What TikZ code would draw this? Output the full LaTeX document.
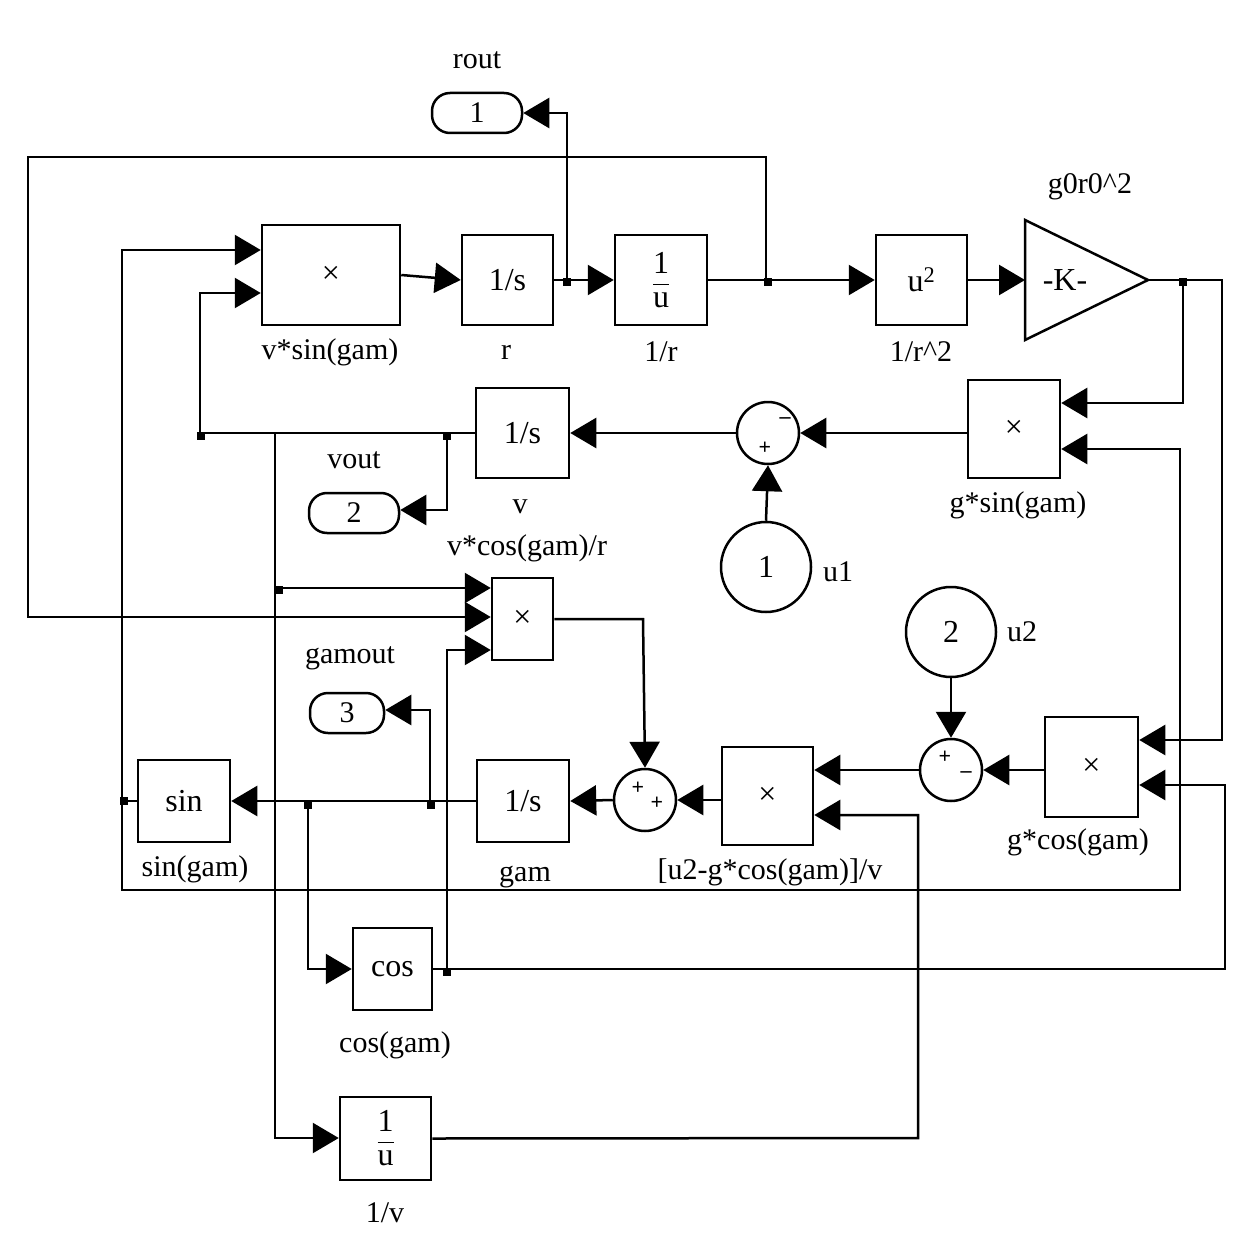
\documentclass[tikz,border=0pt]{standalone}
\usepackage{fontspec}
\setmainfont{Liberation Serif}
\usetikzlibrary{arrows.meta,calc}
\begin{document}
\begin{tikzpicture}[x=1pt,y=-1pt,line width=2.5pt,
 blk/.style={draw,inner sep=0pt,font=\fontsize{32}{36}\selectfont},
 lbl/.style={inner sep=0pt,font=\fontsize{30}{34}\selectfont},
 ar/.style={-{Triangle[length=26pt,width=30pt]}},
 jd/.style={fill,rectangle,minimum size=8pt,inner sep=0pt},
 sm/.style={draw,circle,minimum size=62pt,inner sep=0pt},
 inport/.style={draw,circle,minimum size=90pt,inner sep=0pt,font=\fontsize{32}{36}\selectfont},
 sg/.style={inner sep=0pt,font=\fontsize{22}{24}\bfseries\selectfont},
 port/.style={draw,rounded corners=18pt,minimum width=90pt,minimum height=40pt,inner sep=0pt,font=\fontsize{30}{34}\selectfont}]
\useasboundingbox (0,0) rectangle (1232,1233);
% blocks
\node[blk,minimum width=138pt,minimum height=100pt] (m1) at (331,275) {×};
\node[blk,minimum width=91pt,minimum height=90pt] (rint) at (507.5,280) {1/s};
\node[blk,minimum width=92pt,minimum height=90pt] (invr) at (661,280) {$\displaystyle\frac{\mbox{1}}{\mbox{u}}$};
\node[blk,minimum width=91pt,minimum height=90pt] (usq) at (921.5,280) {u\textsuperscript{2}};
\coordinate (gin) at (1025,280);
\coordinate (gout) at (1148,280);
\draw (1025,220) -- (gout) -- (1025,340) -- cycle;
\node[blk,draw=none] (gtxt) at (1065,280) {-K-};
\node[blk,minimum width=92pt,minimum height=98pt] (gs) at (1014,429) {×};
\node[sm] (s1) at (768,433) {};
\node[inport] (u1) at (766,567) {1};
\node[blk,minimum width=93pt,minimum height=90pt] (vint) at (522.5,433) {1/s};
\node[port] (op1) at (477,113) {1};
\node[port] (op2) at (354,513) {2};
\node[port,minimum width=74pt] (op3) at (347,713) {3};
\node[blk,minimum width=61pt,minimum height=82pt] (m3) at (522.5,619) {×};
\node[blk,minimum width=92pt,minimum height=82pt] (sinb) at (184,801) {sin};
\node[blk,minimum width=92pt,minimum height=82pt] (gint) at (523,801) {1/s};
\node[sm] (s2) at (645,800) {};
\node[blk,minimum width=91pt,minimum height=98pt] (m4) at (767.5,796) {×};
\node[sm] (s3) at (951,770) {};
\node[inport] (u2c) at (951,632) {2};
\node[blk,minimum width=93pt,minimum height=100pt] (gc) at (1091.5,767) {×};
\node[blk,minimum width=79pt,minimum height=82pt] (cosb) at (392.5,969) {cos};
\node[blk,minimum width=91pt,minimum height=83pt] (invv) at (385.5,1138.5) {$\displaystyle\frac{\mbox{1}}{\mbox{u}}$};
% labels
\node[lbl] (l1) at (477,60) {rout};
\node[lbl] (l2) at (330,352) {v*sin(gam)};
\node[lbl] (l3) at (506,352) {r};
\node[lbl] (l4) at (661,352) {1/r};
\node[lbl] (l5) at (921,352) {1/r\textasciicircum 2};
\node[lbl] (l6) at (1090,187) {g0r0\textasciicircum 2};
\node[lbl] (l7) at (1018,505) {g*sin(gam)};
\node[lbl] (l8) at (354,460) {vout};
\node[lbl] (l9) at (520,507) {v};
\node[lbl] (l10) at (527,548) {v*cos(gam)/r};
\node[lbl] (l11) at (838,572) {u1};
\node[lbl] (l12) at (1022,632) {u2};
\node[lbl] (l13) at (350,658) {gamout};
\node[lbl] (l14) at (195,869) {sin(gam)};
\node[lbl] (l15) at (525,877) {gam};
\node[lbl] (l16) at (770,872) {[u2-g*cos(gam)]/v};
\node[lbl] (l17) at (1078,842) {g*cos(gam)};
\node[lbl] (l18) at (395,1045) {cos(gam)};
\node[lbl] (l19) at (385,1213) {1/v};
% signs
\node[sg] (p1) at (765,448) {+};
\node[sg] (n1) at (785,421) {–};
\node[sg] (p2) at (638,788) {+};
\node[sg] (p3) at (657,803) {+};
\node[sg] (p4) at (945,757) {+};
\node[sg] (n3) at (966,775) {–};
% junctions
\node[jd] (j1) at (567,282) {};
\node[jd] (j2) at (768,282) {};
\node[jd] (j3) at (1183,282) {};
\node[jd] (j4) at (124,801) {};
\node[jd] (j5) at (447,436) {};
\node[jd] (j6) at (201,436) {};
\node[jd] (j8) at (279,590) {};
\node[jd] (j9) at (447,972) {};
\node[jd] (j10) at (431,805) {};
\node[jd] (j11) at (308,805) {};
% wires
\draw[ar] (m1.east) -- (rint.west);
\draw[ar] (rint.east) -- (invr.west);
\draw[ar] (567,280) -- (567,113) -- (op1.east);
\draw[ar] (invr.east) -- (usq.west);
\draw[ar] (766,280) -- (766,157) -- (28,157) -- (28,617) -- (m3.west |- 0,617);
\draw[ar] (usq.east) -- (gin);
\draw[ar] (gout) -- (1222,280) -- (1222,740) -- (gc.east |- 0,740);
\draw[ar] (1183,280) -- (1183,403) -- (gs.east |- 0,403);
\draw[ar] (sinb.west) -- (122,801) -- (122,250) -- (m1.west |- 0,250);
\draw[ar] (122,801) -- (122,890) -- (1180,890) -- (1180,449) -- (gs.east |- 0,449);
\draw[ar] (gs.west |- 0,433) -- (s1.east);
\draw[ar] (u1.north) -- (s1.south);
\draw[ar] (s1.west) -- (vint.east);
\draw[ar] (vint.west) -- (200,433) -- (200,293) -- (m1.west |- 0,293);
\draw[ar] (447,433) -- (447,510) -- (op2.east |- 0,510);
\draw[ar] (275,433) -- (275,1138) -- (invv.west |- 0,1138);
\draw[ar] (275,588) -- (m3.west |- 0,588);
\draw[ar] (m3.east) -- (643,619) -- (s2.north);
\draw[ar] (cosb.east) -- (1225,969) -- (1225,785) -- (gc.east |- 0,785);
\draw[ar] (447,969) -- (447,650) -- (m3.west |- 0,650);
\draw[ar] (gint.west) -- (sinb.east);
\draw[ar] (430,801) -- (430,710) -- (op3.east |- 0,710);
\draw[ar] (308,801) -- (308,969) -- (cosb.west);
\draw[ar] (s2.west) -- (gint.east);
\draw[ar] (m4.west |- 0,800) -- (s2.east);
\draw[ar] (s3.west) -- (m4.east |- 0,770);
\draw[ar] (u2c.south) -- (s3.north);
\draw[ar] (gc.west |- 0,770) -- (s3.east);
\draw[ar] (invv.east) -- (918,1138) -- (918,815) -- (m4.east |- 0,815);
\end{tikzpicture}
\end{document}
